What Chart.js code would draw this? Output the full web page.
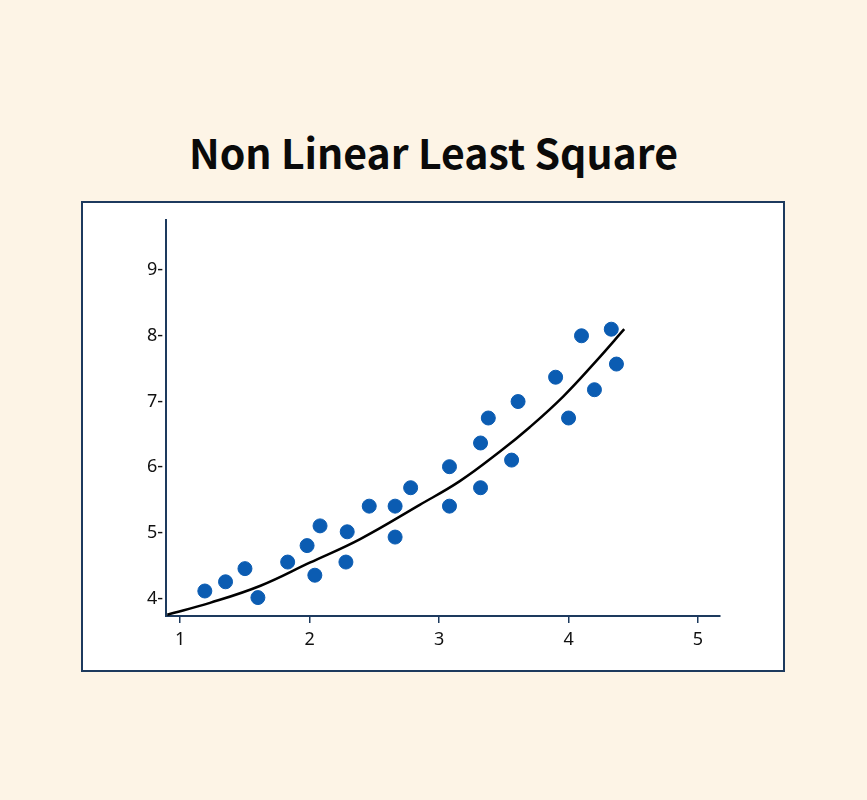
<!DOCTYPE html>
<html lang="en">
<head>
  <meta charset="UTF-8">
  <title>Non Linear Least Square</title>
  <script src="https://cdn.jsdelivr.net/npm/chart.js"></script>
  <style>
    body { margin: 0; background: #fdf4e6; width: 867px; height: 800px; position: relative; overflow: hidden; }
    h1 {
      position: absolute; left: 0; top: 119px; width: 867px; margin: 0;
      text-align: center; font-family: 'Noto Sans CJK SC', 'Noto Sans', sans-serif;
      font-weight: 700; font-size: 41px; line-height: 64px; color: #0a0a0a;
    }
    .box {
      position: absolute; left: 81px; top: 201px; width: 704px; height: 471px;
      box-sizing: border-box; border: 2px solid #1d3a5e; background: #fff;
    }
    canvas { display: block; }
  </style>
</head>
<body>
  <h1>Non Linear Least Square</h1>
  <div class="box"><canvas id="chart" width="700" height="467"></canvas></div>

  <script>
    // observed points
    const obsX = [1.19, 1.35, 1.50, 1.60, 1.83, 1.98, 2.08, 2.04, 2.29, 2.28, 2.46, 2.66, 2.66, 2.78,
                  3.08, 3.08, 3.32, 3.32, 3.38, 3.56, 3.61, 3.90, 4.00, 4.10, 4.20, 4.33, 4.37];
    const obsY = [4.12, 4.26, 4.46, 4.02, 4.56, 4.81, 5.11, 4.36, 5.02, 4.56, 5.41, 5.41, 4.94, 5.69,
                  6.01, 5.41, 6.37, 5.69, 6.75, 6.11, 7.00, 7.37, 6.75, 8.00, 7.18, 8.10, 7.57];

    // fitted curve
    const fitX = [0.90, 1.23, 1.62, 2.00, 2.39, 2.85, 3.16, 3.47, 3.70, 3.96, 4.22, 4.43];
    const fitY = [3.76, 3.94, 4.20, 4.55, 4.91, 5.43, 5.79, 6.24, 6.61, 7.08, 7.63, 8.10];

    const xTicks = [1, 2, 3, 4, 5];
    const yTicks = [4, 5, 6, 7, 8, 9];

    const navy = '#1d3a5e';
    const tickFont = { family: "'Noto Sans', sans-serif", size: 18 };

    new Chart(document.getElementById('chart'), {
      type: 'scatter',
      data: {
        datasets: [
          {
            label: 'Data',
            data: obsX.map((x, i) => ({ x: x, y: obsY[i] })),
            backgroundColor: '#0b5cb2',
            borderColor: '#0b5cb2',
            pointRadius: 7,
            pointHoverRadius: 7
          },
          {
            label: 'Fit',
            type: 'line',
            data: fitX.map((x, i) => ({ x: x, y: fitY[i] })),
            borderColor: '#000',
            borderWidth: 2.5,
            pointRadius: 0,
            fill: false,
            tension: 0.4
          }
        ]
      },
      options: {
        responsive: false,
        animation: false,
        layout: { padding: { top: 17, right: 63, left: 0, bottom: 0 } },
        plugins: { legend: { display: false }, title: { display: false }, tooltip: { enabled: false } },
        scales: {
          x: {
            type: 'linear',
            min: 0.89,
            max: 5.17,
            afterBuildTicks: s => { s.ticks = xTicks.map(v => ({ value: v })); },
            afterFit: s => { s.height = 54; },
            border: { color: navy, width: 2 },
            grid: { drawOnChartArea: false, drawTicks: true, tickLength: 7, color: navy, lineWidth: 1.5 },
            ticks: { color: '#111', font: tickFont, padding: 6 }
          },
          y: {
            type: 'linear',
            min: 3.74,
            max: 9.76,
            afterBuildTicks: s => { s.ticks = yTicks.map(v => ({ value: v })); },
            afterFit: s => { s.width = 83; },
            border: { color: navy, width: 2 },
            grid: { drawOnChartArea: false, drawTicks: false },
            ticks: { color: '#111', font: tickFont, padding: 3, callback: v => v + '-' }
          }
        }
      }
    });
  </script>
</body>
</html>
